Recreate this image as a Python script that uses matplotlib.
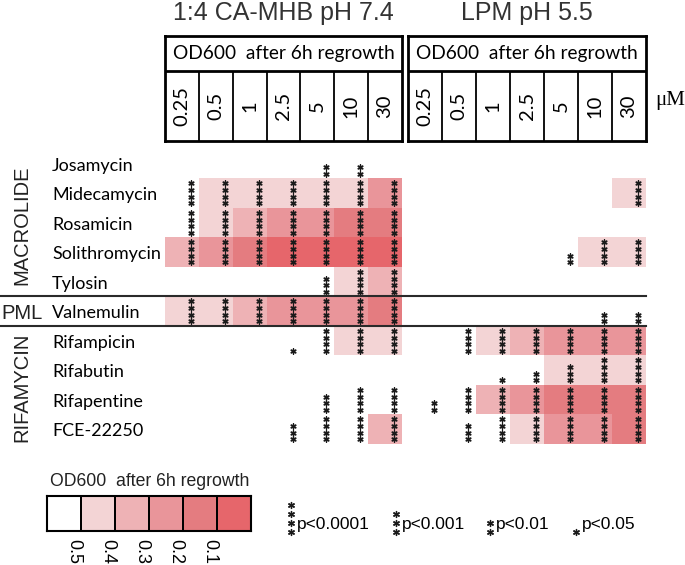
import numpy as np
import matplotlib.pyplot as plt
from matplotlib.colors import ListedColormap, BoundaryNorm
from matplotlib import transforms

drugs = ["Josamycin", "Midecamycin", "Rosamicin", "Solithromycin", "Tylosin",
         "Valnemulin", "Rifampicin", "Rifabutin", "Rifapentine", "FCE-22250"]
groups = [("MACROLIDE", 0, 5), ("PML", 5, 6), ("RIFAMYCIN", 6, 10)]
conc = ["0.25", "0.5", "1", "2.5", "5", "10", "30"]
media = ["1:4 CA-MHB pH 7.4", "LPM pH 5.5"]
header = "OD600  after 6h regrowth"

# OD600 bin per cell: 0 = >0.5 (white) ... 5 = <0.1
od_mhb = [[0, 0, 0, 0, 0, 0, 0],
          [0, 1, 1, 1, 1, 1, 3],
          [0, 1, 2, 3, 3, 4, 4],
          [2, 3, 4, 5, 5, 5, 5],
          [0, 0, 0, 0, 0, 1, 2],
          [1, 1, 2, 3, 3, 3, 4],
          [0, 0, 0, 0, 0, 1, 1],
          [0, 0, 0, 0, 0, 0, 0],
          [0, 0, 0, 0, 0, 0, 0],
          [0, 0, 0, 0, 0, 0, 2]]
stars_mhb = [[0, 0, 0, 0, 2, 2, 0],
             [4, 4, 4, 4, 4, 4, 4],
             [4, 4, 4, 4, 4, 4, 4],
             [4, 4, 4, 4, 4, 4, 4],
             [0, 0, 0, 0, 3, 4, 4],
             [4, 4, 4, 4, 4, 4, 4],
             [0, 0, 0, 1, 4, 4, 4],
             [0, 0, 0, 0, 0, 0, 0],
             [0, 0, 0, 0, 3, 4, 4],
             [0, 0, 0, 3, 4, 4, 4]]
od_lpm = [[0, 0, 0, 0, 0, 0, 0],
          [0, 0, 0, 0, 0, 0, 1],
          [0, 0, 0, 0, 0, 0, 0],
          [0, 0, 0, 0, 0, 1, 1],
          [0, 0, 0, 0, 0, 0, 0],
          [0, 0, 0, 0, 0, 0, 0],
          [0, 0, 1, 2, 3, 3, 3],
          [0, 0, 0, 0, 1, 1, 1],
          [0, 0, 2, 3, 4, 4, 4],
          [0, 0, 0, 1, 3, 3, 4]]
stars_lpm = [[0, 0, 0, 0, 0, 0, 0],
             [0, 0, 0, 0, 0, 0, 4],
             [0, 0, 0, 0, 0, 0, 0],
             [0, 0, 0, 0, 2, 4, 4],
             [0, 0, 0, 0, 0, 0, 0],
             [0, 0, 0, 0, 0, 2, 2],
             [0, 4, 4, 4, 4, 4, 4],
             [0, 0, 1, 2, 3, 4, 4],
             [2, 4, 4, 4, 4, 4, 4],
             [0, 3, 4, 4, 4, 4, 4]]
legend_ticks = ["0.5", "0.4", "0.3", "0.2", "0.1"]
pvals = ["p<0.0001", "p<0.001", "p<0.01", "p<0.05"]
pstars = [4, 3, 2, 1]

colors = ["#ffffff", "#f3d4d5", "#eeb2b5", "#e9959a", "#e47c80", "#e6666b"]
cmap = ListedColormap(colors)
norm = BoundaryNorm(np.arange(-0.5, 6), cmap.N)

W, H = 685, 565
fig = plt.figure(figsize=(W / 100, H / 100), dpi=100)


def px_axes(x0, y0, x1, y1):
    return fig.add_axes([x0 / W, 1 - y1 / H, (x1 - x0) / W, (y1 - y0) / H])


canvas = px_axes(0, 0, W, H)
canvas.set_xlim(0, W)
canvas.set_ylim(H, 0)
canvas.axis("off")
canvas.patch.set_visible(False)
canvas.set_zorder(10)

sans = "Liberation Sans"
cal = "Lato"
star_kw = dict(marker=(6, 2, 0), s=14, c="#1a1a1a", linewidths=1.0, zorder=5)

blocks = [(165, 402, od_mhb, stars_mhb, media[0]),
          (408, 646, od_lpm, stars_lpm, media[1])]
heat_axes = []
for x0, x1, od, st, title in blocks:
    ax = px_axes(x0, 148.5, x1, 443.5)
    ax.pcolormesh(np.array(od), cmap=cmap, norm=norm)
    ax.set_xlim(0, 7)
    ax.set_ylim(len(drugs), 0)
    ax.axis("off")
    xs, ys = [], []
    for r, row in enumerate(st):
        for c, n in enumerate(row):
            for k in range(n):
                xs.append(c + 0.77)
                ys.append(r + 1 - 0.14 - k * 0.226)
    ax.scatter(xs, ys, clip_on=False, **star_kw)
    heat_axes.append(ax)

    hd = px_axes(x0, 36, x1, 141)
    hd.set_xlim(0, 7)
    hd.set_ylim(1, 0)
    hd.set_xticks([])
    hd.set_yticks([])
    for sp in hd.spines.values():
        sp.set_linewidth(2.0)
    hd.axhline(1 / 3, color="k", lw=2.0)
    hd.vlines(np.arange(1, 7), 1 / 3, 1, color="k", lw=1.3)
    hd.text(3.5, 1 / 6, header, ha="center", va="center", fontsize=13.8, family=cal)
    for c, lab in enumerate(conc):
        hd.text(c + 0.5, 2 / 3, lab, ha="center", va="center", rotation=90,
                fontsize=14.5, family=cal)
    hd.text(3.5, -0.152, title, ha="center", va="baseline", fontsize=18,
            family=sans, color="#333333")

canvas.text(655, 100, "\u03bcM", ha="left", va="center", fontsize=15,
            family="Liberation Serif")

axL, axR = heat_axes
tr = transforms.blended_transform_factory(canvas.transData, axL.transData)
for r, name in enumerate(drugs):
    canvas.text(52, r + 0.58, name, transform=tr, ha="left", va="center",
                fontsize=13, family=cal)
for name, a, b in groups:
    rot = 90 if b - a > 1 else 0
    canvas.text(22, (a + b) / 2 + 0.1, name, transform=tr, ha="center", va="center",
                rotation=rot, fontsize=14.5, family=sans, color="#222222")
for yb in (5, 6):
    canvas.plot([0, 646], [yb, yb], transform=tr, color="#2a2a2a", lw=1.5,
                clip_on=False, zorder=6)

# colour legend
canvas.text(150, 481, header, ha="center", va="center", fontsize=12.7,
            family=sans, color="#222222")
lg = px_axes(47, 496, 251, 531)
lg.pcolormesh(np.arange(len(colors))[None, :], cmap=cmap, norm=norm,
              edgecolors="k", linewidth=1.2)
lg.set_xlim(0, len(colors))
lg.set_ylim(0, 1)
lg.set_yticks([])
lg.set_xticks(np.arange(1, len(colors)) - 0.2)
lg.set_xticklabels(legend_ticks, rotation=270, fontsize=13, family=sans)
lg.tick_params(axis="x", length=0, pad=6)
for sp in lg.spines.values():
    sp.set_linewidth(1.5)

# p-value legend
px = [291, 396, 490, 576]
pstar_kw = dict(star_kw, s=18)
for x, lab, n in zip(px, pvals, pstars):
    canvas.scatter([x] * n, [531.5 - 8.9 * k for k in range(n)], **pstar_kw)
    canvas.text(x + 6, 525, lab, ha="left", va="center", fontsize=12.5, family=sans)

fig.savefig("out.png", dpi=100)
